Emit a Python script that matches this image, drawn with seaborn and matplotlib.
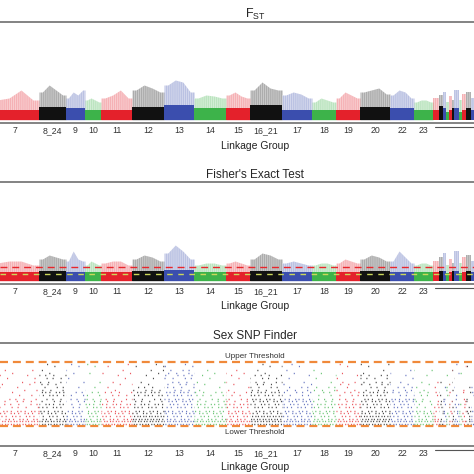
import matplotlib
matplotlib.use('Agg')
import matplotlib.pyplot as plt
import matplotlib.transforms as mtransforms
import numpy as np
import seaborn as sns

# Linkage groups visible in the crop (LG 1-6 are cut off on the left)
lg_names = ['7', '8_24', '9', '10', '11', '12', '13', '14', '15', '16_21',
            '17', '18', '19', '20', '22', '23']
lg_sizes = [48, 27, 19, 16, 31, 32, 30, 32, 24, 32, 30, 24, 24, 30, 24, 19]
# unplaced scaffolds after LG 23
scaffold_sizes = [6, 4, 3, 3, 3, 2, 5, 3, 4, 5, 5]

# FST: dense band height and upper edge of the scatter (4 readings per LG)
fst_band = [0.10, 0.13, 0.12, 0.10, 0.10, 0.13, 0.15, 0.12, 0.12, 0.15,
            0.10, 0.10, 0.10, 0.13, 0.12, 0.10]
fst_top = [[0.20, 0.22, 0.30, 0.20], [0.28, 0.35, 0.30, 0.25],
           [0.22, 0.28, 0.25, 0.30], [0.20, 0.22, 0.20, 0.18],
           [0.22, 0.25, 0.30, 0.22], [0.30, 0.35, 0.32, 0.28],
           [0.35, 0.40, 0.38, 0.28], [0.22, 0.25, 0.24, 0.22],
           [0.25, 0.28, 0.24, 0.22], [0.30, 0.38, 0.32, 0.30],
           [0.25, 0.28, 0.26, 0.22], [0.18, 0.22, 0.20, 0.18],
           [0.22, 0.28, 0.25, 0.22], [0.28, 0.30, 0.32, 0.26],
           [0.25, 0.30, 0.28, 0.22], [0.18, 0.20, 0.20, 0.18]]
fst_scaffold_band = [0.10, 0.14, 0.12, 0.08, 0.10, 0.12, 0.12, 0.08, 0.10, 0.12, 0.10]
fst_scaffold_top = [0.22, 0.25, 0.28, 0.18, 0.24, 0.20, 0.30, 0.20, 0.26, 0.28, 0.22]

# Fisher's exact test (-log10 p)
fisher_band = [0.9, 1.0, 0.9, 0.9, 0.9, 1.0, 1.1, 0.9, 0.9, 1.0,
               0.9, 0.9, 0.9, 1.0, 0.9, 0.9]
fisher_top = [[1.8, 2.0, 2.0, 1.6], [2.2, 2.6, 2.4, 2.2],
              [2.0, 3.0, 2.2, 2.0], [1.6, 2.0, 1.8, 1.6],
              [1.8, 2.0, 2.0, 1.6], [2.2, 2.6, 2.4, 2.0],
              [2.8, 3.6, 3.0, 2.2], [1.6, 1.8, 1.8, 1.6],
              [1.8, 2.0, 1.8, 1.6], [2.2, 2.8, 2.6, 2.2],
              [1.8, 2.0, 1.8, 1.6], [1.6, 1.8, 1.8, 1.6],
              [1.8, 2.2, 2.0, 1.8], [2.2, 2.6, 2.4, 2.0],
              [2.0, 3.0, 2.4, 1.8], [1.6, 1.8, 1.8, 1.6]]
fisher_scaffold_band = [0.9, 1.0, 1.0, 0.8, 0.9, 1.0, 1.0, 0.8, 0.9, 1.0, 0.9]
fisher_scaffold_top = [2.0, 2.4, 2.8, 1.6, 2.2, 1.8, 3.0, 1.8, 2.4, 2.6, 2.0]
fisher_upper = 1.4
fisher_lower = 0.7

# Sex SNP finder: point density (0-4) on each ratio level, per LG
snp_levels = [0.76, 0.70, 0.65, 0.59, 0.54, 0.49, 0.43, 0.38, 0.32, 0.27, 0.22]
snp_density = [[0, 1, 1, 1, 1, 1, 2, 2, 3, 3, 4],
               [1, 1, 2, 2, 2, 3, 2, 3, 3, 3, 4],
               [1, 1, 1, 1, 1, 2, 2, 2, 3, 3, 4],
               [1, 1, 1, 1, 1, 2, 2, 3, 3, 3, 4],
               [1, 1, 1, 1, 1, 2, 2, 3, 3, 3, 4],
               [1, 1, 1, 1, 2, 3, 2, 3, 3, 4, 4],
               [1, 2, 2, 2, 2, 3, 3, 3, 3, 3, 4],
               [0, 1, 1, 1, 1, 2, 2, 3, 3, 3, 4],
               [0, 1, 1, 1, 1, 2, 2, 3, 3, 3, 4],
               [1, 1, 2, 2, 2, 3, 3, 3, 3, 4, 4],
               [1, 1, 1, 1, 2, 2, 3, 3, 3, 3, 4],
               [0, 1, 1, 1, 2, 2, 2, 3, 3, 3, 4],
               [1, 1, 1, 2, 1, 2, 2, 3, 3, 3, 4],
               [1, 1, 2, 2, 2, 3, 3, 3, 3, 4, 4],
               [0, 1, 1, 1, 2, 2, 3, 3, 3, 3, 4],
               [0, 1, 1, 1, 1, 2, 2, 2, 3, 3, 4]]
snp_scaffold_density = [1, 1, 1, 1, 2, 2, 2, 3, 3, 3, 4]
snp_upper = 0.80
snp_lower = 0.20

palette = ['#e4212b', '#111111', '#3b4eae', '#3db34a']
dot_dashes = {1: (0.8, 12, 0.8, 19, 0.8, 8),
              2: (0.8, 5, 0.8, 8, 0.8, 3.5),
              3: (0.8, 2.2, 0.8, 3.8, 0.8, 1.6),
              4: (0.8, 1, 0.8, 1.6)}

sns.set_theme(style='white')
plt.rcParams['font.family'] = ['Liberation Sans', 'DejaVu Sans']
plt.rcParams['hatch.linewidth'] = 0.5

# positions of every block on the genome axis
sizes = lg_sizes + scaffold_sizes
starts = np.concatenate([[0], np.cumsum(sizes)[:-1]])
ends = starts + np.array(sizes)
colors = [palette[i % 4] for i in range(len(sizes))]
centers = (starts + ends)[:len(lg_names)] / 2
x_left = 9
x_right = x_left + 474

fig = plt.figure(figsize=(4.74, 4.74), dpi=100)
ax1 = fig.add_axes([0, 0.7405, 1, 0.2131])
ax2 = fig.add_axes([0, 0.4008, 1, 0.2152])
ax3 = fig.add_axes([0, 0.0591, 1, 0.2173])


def draw_band(ax, bands, tops):
    for i in range(len(sizes)):
        s, e, c = starts[i], ends[i], colors[i]
        top = tops[i] if np.ndim(tops[i]) else [tops[i]]
        n = len(top)
        xs = [s] + [s + (e - s) * (k + 0.5) / n for k in range(n)] + [e]
        ys = [top[0]] + list(top) + [top[-1]]
        # grainy scatter above the dense band
        ax.fill_between(xs, 0, ys, facecolor=c, alpha=0.35, lw=0)
        ax.fill_between(xs, 0, ys, facecolor='none', edgecolor='white', alpha=0.5,
                        hatch='||||||||', lw=0)
        ax.bar(s, bands[i], width=e - s, align='edge', color=c, lw=0)


draw_band(ax1, fst_band + fst_scaffold_band, fst_top + fst_scaffold_top)
ax1.set_ylim(-0.03, 0.98)
ax1.set_title(r'F$_{\mathregular{ST}}$', fontsize=9, x=0.538, pad=3)

draw_band(ax2, fisher_band + fisher_scaffold_band, fisher_top + fisher_scaffold_top)
ax2.axhline(fisher_upper, color='#e8262c', lw=1.0, ls=(0, (5, 3.5)))
ax2.axhline(fisher_lower, color='#ccd85a', lw=1.0, ls=(0, (4, 4)))
ax2.set_ylim(-0.3, 9.9)
ax2.set_title("Fisher's Exact Test", fontsize=8.5, x=0.538, pad=3)

# sex SNP finder: rows of points drawn as dotted segments
densities = snp_density + [snp_scaffold_density] * len(scaffold_sizes)
for i in range(len(sizes)):
    for r, lev in enumerate(snp_levels):
        d = densities[i][r]
        if d == 0:
            continue
        for sub, dy in enumerate((0.0, 0.025)):
            ax3.plot([starts[i], ends[i]], [lev + dy, lev + dy], color=colors[i],
                     lw=1.0, alpha=0.75, solid_capstyle='butt', dash_capstyle='butt',
                     ls=((r * 3.7 + sub * 5.3 + i * 2.1) % 20, dot_dashes[d]))
for lev in (snp_upper, snp_lower):
    ax3.axhline(lev, color='#f0893a', lw=1.6, ls=(0, (3.6, 2.2)))
ax3.text(0.538, snp_upper + 0.05, 'Upper Threshold', transform=ax3.get_yaxis_transform(),
         ha='center', va='center', fontsize=5.8, color='#333333')
ax3.text(0.538, snp_lower - 0.058, 'Lower Threshold', transform=ax3.get_yaxis_transform(),
         ha='center', va='center', fontsize=5.8, color='#333333')
ax3.set_ylim(0.0125, 0.978)
ax3.set_title('Sex SNP Finder', fontsize=8.5, x=0.538, pad=3)

for ax, label_y in ((ax1, -0.228), (ax2, -0.216), (ax3, -0.204)):
    ax.set_xlim(x_left, x_right)
    ax.set_xticks(centers, lg_names, fontsize=6.3, color='#333333')
    ax.set_yticks([])
    ax.tick_params(axis='x', length=0, pad=2.5)
    ax.set_xlabel('Linkage Group', fontsize=7.5, color='#222222', va='center')
    ax.xaxis.set_label_coords(0.538, label_y)
    sns.despine(ax=ax, left=True, right=True, top=False, bottom=False)
    for side in ('top', 'bottom'):
        ax.spines[side].set_color('#7a7a7a')
        ax.spines[side].set_linewidth(1.3)
    # line under the unplaced scaffolds
    tr = mtransforms.blended_transform_factory(ax.transData, ax.transAxes)
    ax.plot([ends[len(lg_names) - 1] + 2, x_right], [-0.04, -0.04], color='#555555',
            lw=0.8, transform=tr, clip_on=False)

fig.savefig('out.png', dpi=100)
